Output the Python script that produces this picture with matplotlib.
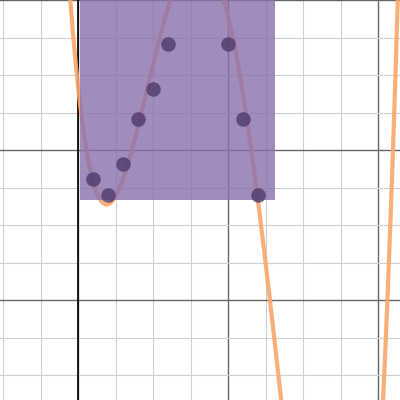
import numpy as np
import matplotlib
matplotlib.use("Agg")
import matplotlib.pyplot as plt

pts_x = [0.4, 0.8, 1.2, 1.6, 2.0, 2.4, 4.0, 4.4, 4.8]
pts_y = [-0.77, -1.2, -0.37, 0.83, 1.63, 2.83, 2.83, 0.83, -1.2]
curve_x = [-0.21, 0.8, 2.6, 3.3, 4.0, 5.39, 8.13, 8.53]
curve_y = [4.0, -1.28, 4.0, 5.3, 4.0, -6.67, -6.67, 4.0]
rect_x = [0.05, 5.25]
rect_y = [-1.33, 4.2]

fig = plt.figure(figsize=(4, 4), dpi=100)
ax = fig.add_axes([0, 0, 1, 1])
xmin, xmax = -78/37.5, (400-78)/37.5
ymin, ymax = -250/37.5, 150/37.5
ax.set_xlim(xmin, xmax); ax.set_ylim(ymin, ymax)
for v in np.arange(-2, 9):
    ax.axvline(v, color='#666' if v % 4 == 0 else '#d0d0d0', lw=1.0 if v % 4 == 0 else 0.8, zorder=0)
for v in np.arange(-6, 5):
    ax.axhline(v, color='#666' if v % 4 == 0 else '#d0d0d0', lw=1.0 if v % 4 == 0 else 0.8, zorder=0)
ax.axvline(0, color='black', lw=1.2, zorder=0)

c = np.polyfit(curve_x, curve_y, 4)
xs = np.linspace(xmin, xmax, 600)
ax.plot(xs, np.polyval(c, xs), color='#f9a66c', lw=3, alpha=0.9, zorder=1)
ax.fill_between(rect_x, rect_y[0], rect_y[1], color='#8a6fae', alpha=0.8, lw=0, zorder=2)
ax.scatter(pts_x, pts_y, s=110, color='#4f3a6e', alpha=0.8, lw=0, zorder=3)
ax.axis('off')
fig.savefig('out.png')
